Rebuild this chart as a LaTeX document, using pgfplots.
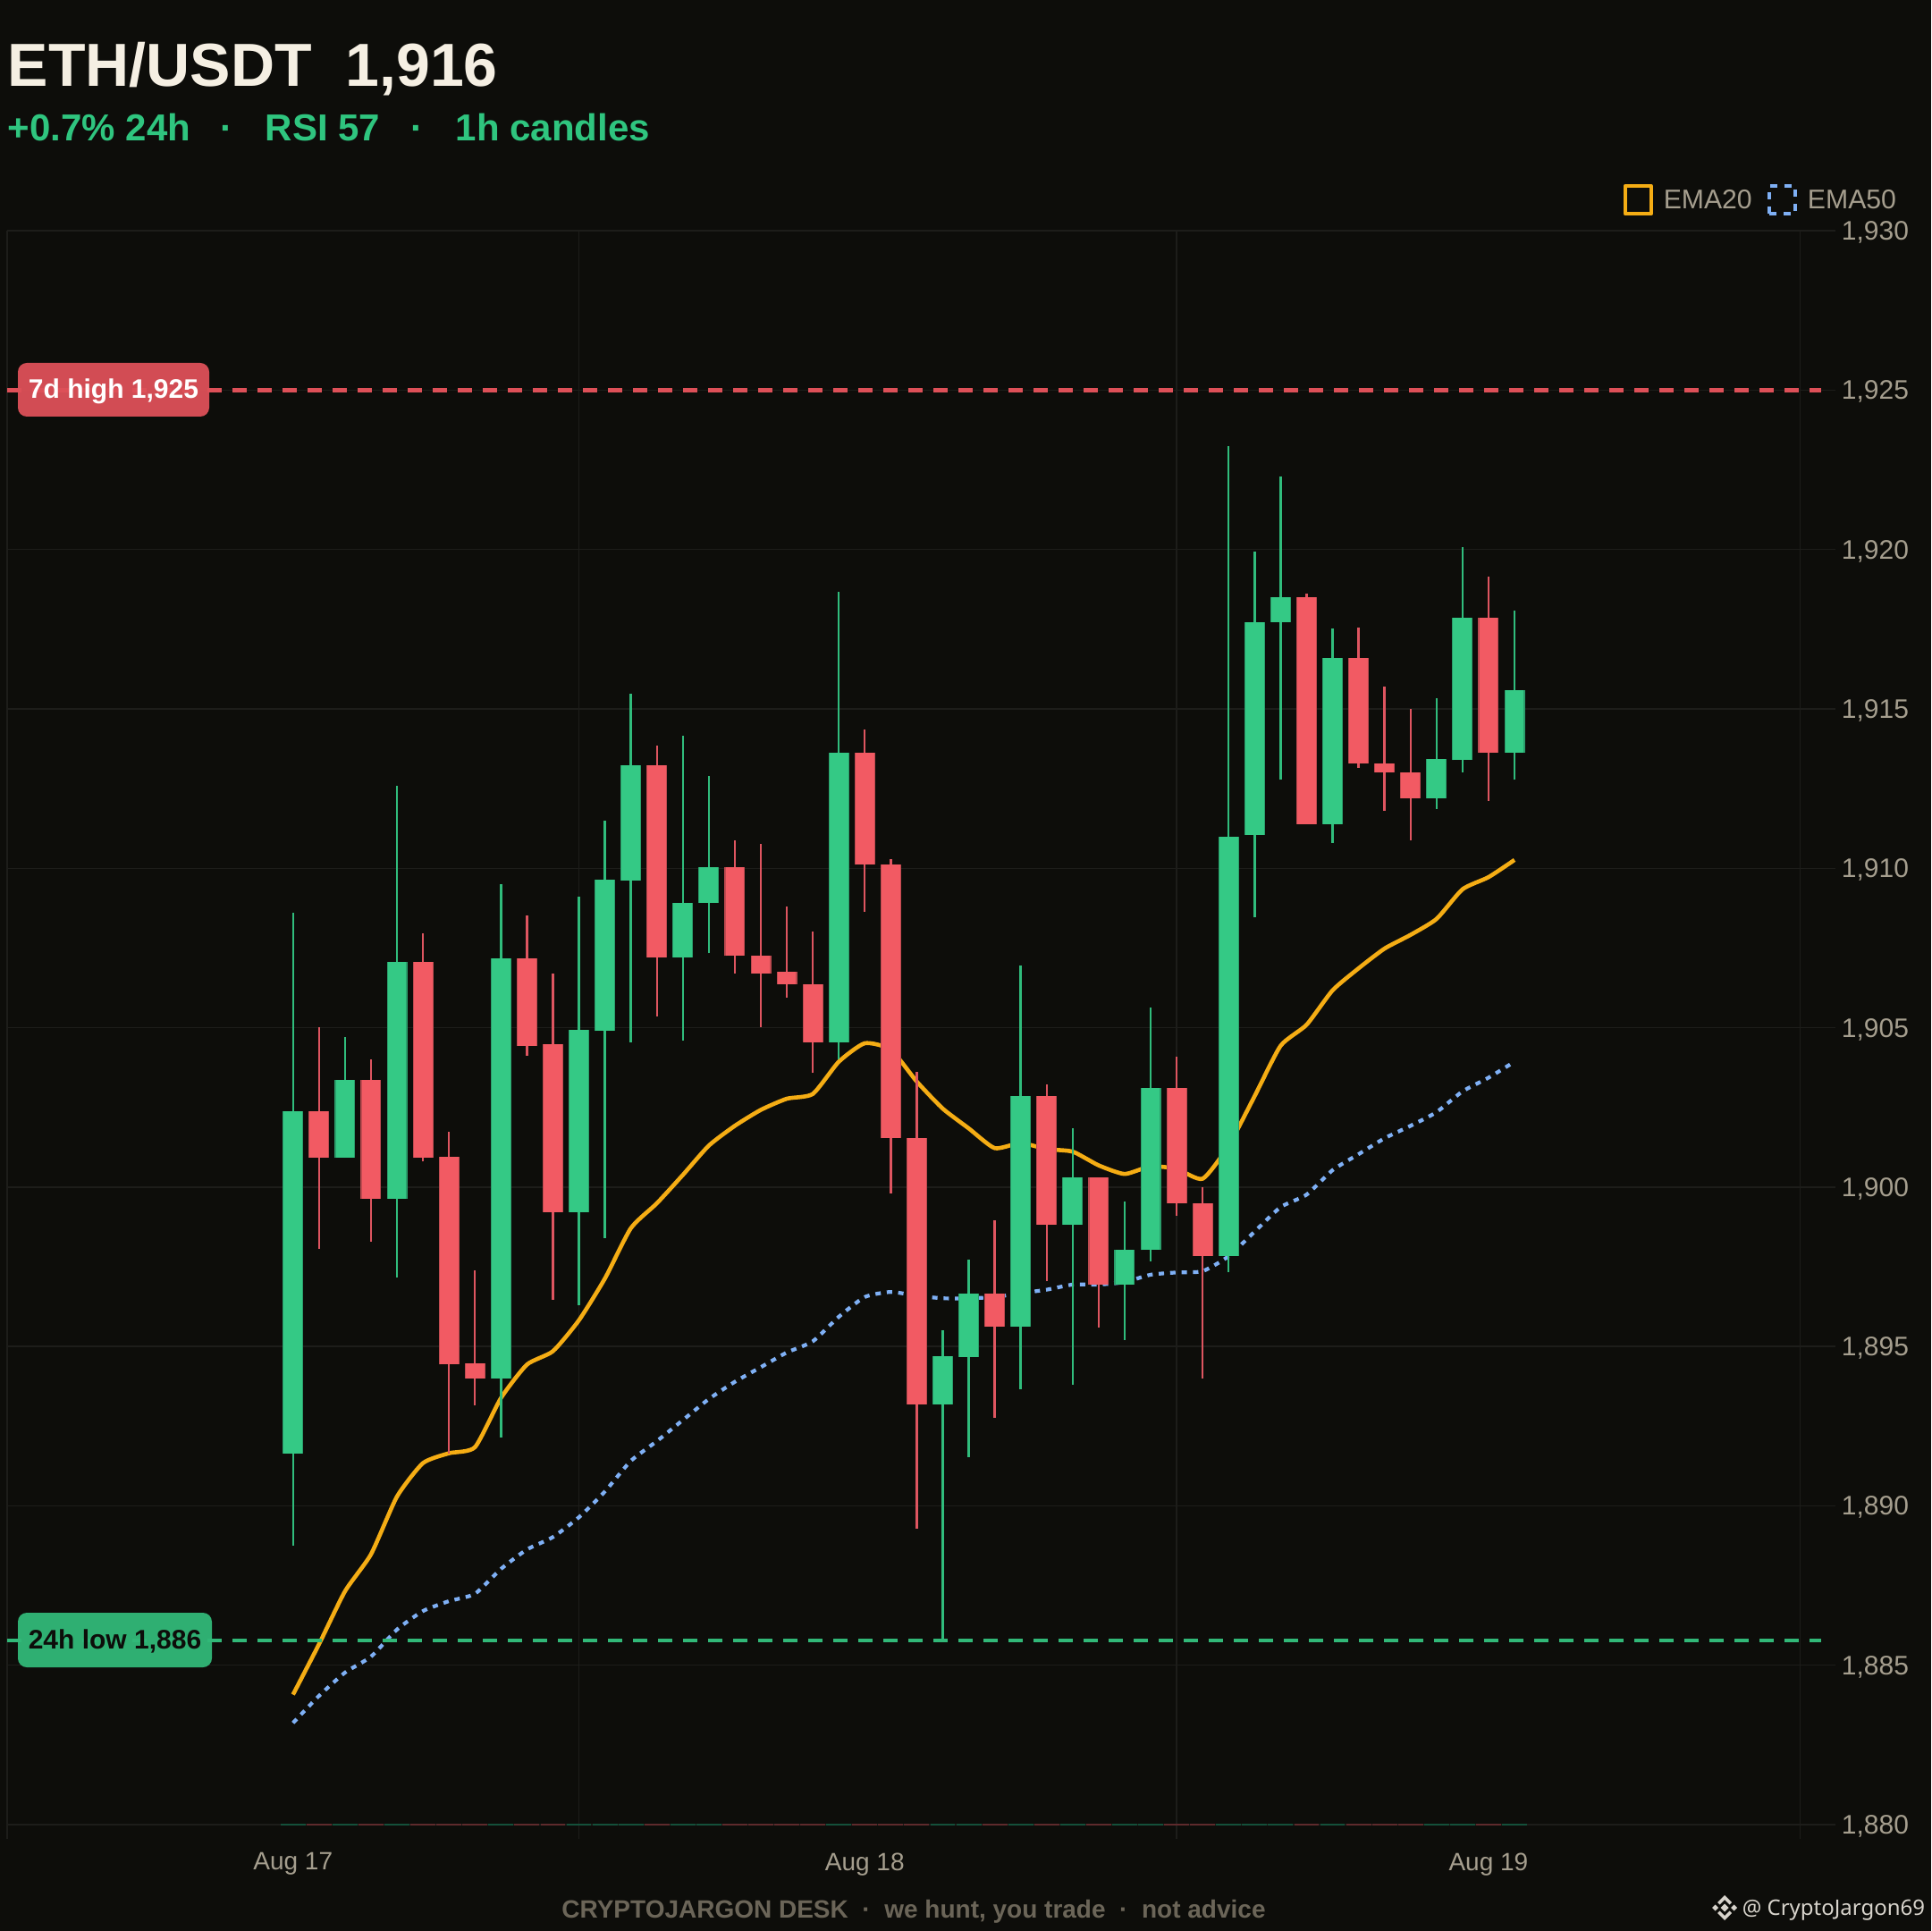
\documentclass[border=0pt]{standalone}
\usepackage{pgfplots}
\usepackage{pgfplotstable}
\usepackage{fontspec}
\pgfplotsset{compat=1.18}
\setmainfont{Liberation Sans}
\newfontfamily\wmfont{Noto Sans}
\definecolor{bgc}{HTML}{0D0D0A}
\definecolor{gridc}{HTML}{1D1D1A}
\definecolor{tickc}{HTML}{A59E8E}
\definecolor{upc}{HTML}{34C985}
\definecolor{upe}{HTML}{2A9E6B}
\definecolor{dnc}{HTML}{F25A63}
\definecolor{dne}{HTML}{BE4A50}
\definecolor{upw}{HTML}{30BC7C}
\definecolor{dnw}{HTML}{DE5560}
\definecolor{ema1}{HTML}{F5AD14}
\definecolor{ema2}{HTML}{7FB0F5}
\definecolor{hic}{HTML}{DD5058}
\definecolor{loc}{HTML}{31B878}
\definecolor{titc}{HTML}{F5EFE3}
\definecolor{subc}{HTML}{2FC57F}
\definecolor{footc}{HTML}{6B6558}
\definecolor{wmc}{HTML}{D8D4CC}
\definecolor{vup}{HTML}{14503A}
\definecolor{vdn}{HTML}{5E2A2C}
\newcommand{\fsz}[1]{\fontsize{#1}{#1}\selectfont}

% x wick-low wick-high body-low body-high
\pgfplotstableread{
x lo hi blo bhi
0 1888.75 1908.60 1891.65 1902.38
2 1900.92 1904.70 1900.92 1903.35
4 1897.17 1912.58 1899.64 1907.06
8 1892.15 1909.49 1894.00 1907.17
11 1896.28 1909.10 1899.22 1904.93
12 1898.41 1911.50 1904.89 1909.65
13 1904.55 1915.48 1909.61 1913.24
15 1904.59 1914.16 1907.21 1908.91
16 1907.33 1912.89 1908.91 1910.03
21 1904.01 1918.68 1904.55 1913.62
25 1885.81 1895.51 1893.19 1894.70
26 1891.53 1897.71 1894.66 1896.67
28 1893.65 1906.94 1895.62 1902.85
30 1893.81 1901.84 1898.83 1900.30
32 1895.20 1899.56 1896.94 1898.02
33 1897.67 1905.63 1898.02 1903.12
36 1897.32 1923.24 1897.83 1911.00
37 1908.45 1919.92 1911.04 1917.72
38 1912.77 1922.28 1917.72 1918.49
40 1910.80 1917.52 1911.38 1916.60
44 1911.85 1915.32 1912.19 1913.43
45 1913.01 1920.07 1913.39 1917.87
47 1912.77 1918.07 1913.62 1915.59
}\upt
\pgfplotstableread{
x lo hi blo bhi
1 1898.06 1905.01 1900.92 1902.38
3 1898.29 1904.01 1899.64 1903.35
5 1900.80 1907.95 1900.92 1907.06
6 1891.65 1901.73 1894.43 1900.95
7 1893.15 1897.40 1894.00 1894.47
9 1904.12 1908.53 1904.43 1907.17
10 1896.47 1906.71 1899.22 1904.47
14 1905.36 1913.86 1907.21 1913.24
17 1906.71 1910.88 1907.25 1910.03
18 1905.01 1910.77 1906.71 1907.25
19 1905.94 1908.80 1906.36 1906.75
20 1903.58 1908.02 1904.55 1906.36
22 1908.64 1914.36 1910.11 1913.62
23 1899.80 1910.30 1901.53 1910.11
24 1889.29 1903.62 1893.19 1901.53
27 1892.77 1898.95 1895.62 1896.67
29 1897.05 1903.23 1898.83 1902.85
31 1895.59 1900.30 1896.94 1900.30
34 1899.10 1904.08 1899.49 1903.12
35 1894.00 1899.99 1897.83 1899.49
39 1911.38 1918.61 1911.38 1918.49
41 1913.16 1917.56 1913.28 1916.60
42 1911.81 1915.71 1913.01 1913.28
43 1910.88 1915.01 1912.19 1913.01
46 1912.12 1919.15 1913.62 1917.87
}\dnt
\pgfplotstableread{
x a b
0 1884.08 1883.19
1 1885.66 1884.04
2 1887.32 1884.77
3 1888.48 1885.27
4 1890.29 1886.12
5 1891.34 1886.70
6 1891.65 1887.01
7 1891.84 1887.24
8 1893.38 1888.02
9 1894.43 1888.63
10 1894.85 1889.02
11 1895.82 1889.64
12 1897.13 1890.45
13 1898.71 1891.41
14 1899.49 1892.03
15 1900.38 1892.69
16 1901.30 1893.35
17 1901.92 1893.89
18 1902.42 1894.35
19 1902.77 1894.81
20 1902.92 1895.16
21 1903.93 1895.93
22 1904.51 1896.55
23 1904.31 1896.71
24 1903.31 1896.59
25 1902.46 1896.51
26 1901.84 1896.51
27 1901.22 1896.55
28 1901.38 1896.67
29 1901.19 1896.78
30 1901.11 1896.94
31 1900.68 1896.94
32 1900.41 1897.02
33 1900.65 1897.25
34 1900.57 1897.32
35 1900.26 1897.36
36 1901.30 1897.83
37 1902.85 1898.60
38 1904.43 1899.37
39 1905.09 1899.76
40 1906.17 1900.53
41 1906.86 1901.03
42 1907.48 1901.53
43 1907.91 1901.92
44 1908.41 1902.35
45 1909.34 1903.00
46 1909.72 1903.43
47 1910.26 1903.93
}\emat

\pgfplotsset{
  wick/.style={draw=none, mark=none, forget plot,
    error bars/.cd, y dir=plus, y explicit, error mark=none,
    error bar style={line width=0.6pt, line cap=butt, solid, color=#1}},
  body/.style 2 args={draw=none, mark=none, forget plot,
    error bars/.cd, y dir=plus, y explicit, error mark=none,
    error bar style={line width=#1, line cap=butt, solid, color=#2}},
  vol/.style={draw=none, mark=none, forget plot,
    error bars/.cd, x dir=both, x fixed=0.48, error mark=none,
    error bar style={line width=0.3pt, solid, color=#1}},
}

\begin{document}
\begin{tikzpicture}
\path[fill=bgc,use as bounding box] (0pt,0pt) rectangle (540pt,-540pt);
\begin{axis}[
  at={(2pt,-510.25pt)}, anchor=south west,
  scale only axis, width=507.25pt, height=445.75pt,
  xmin=-11, xmax=58.8, ymin=1880, ymax=1930,
  axis line style={draw=none},
  xtick={-11,11,34,58}, xticklabels={,,,},
  extra x ticks={0,22,46},
  extra x tick labels={Aug 17,Aug 18,Aug 19},
  extra x tick style={major tick length=0pt, grid=none, xticklabel style={yshift=-4.35pt}},
  ytick={1880,1885,...,1930},
  xtick pos=bottom, ytick pos=right,
  yticklabel pos=right,
  tick align=outside, major tick length=4pt,
  tick style={color=gridc, line width=0.35pt},
  grid=major, grid style={color=gridc, line width=0.35pt},
  yticklabel style={font=\fsz{7.5}, text=tickc, xshift=-1.8pt, yshift=-0.5pt,
    /pgf/number format/fixed, /pgf/number format/1000 sep={,}, /pgf/number format/assume math mode=true},
  xticklabel style={font=\fsz{7}, text=tickc},
  clip=false,
  legend columns=2,
  legend style={at={(1,1)}, anchor=south east, xshift=23pt, yshift=2.6pt, fill=none, draw=none,
    font=\fsz{7.55}, text=tickc, inner sep=0pt, outer sep=0pt,
    /tikz/every even column/.append style={column sep=2.3pt},
    /tikz/every odd column/.append style={column sep=1pt}},
  legend cell align=left,
]
% faint strip along the bottom
\addplot[vol=vup] table[x=x, y expr=1880] {\upt};
\addplot[vol=vdn] table[x=x, y expr=1880] {\dnt};
% EMAs
\addplot[color=ema1, line width=1.15pt, smooth, tension=0.35, line join=round,
  legend image code/.code={\draw[color=ema1, line width=1.05pt, solid] (0pt,-3.3pt) rectangle (7.2pt,4.5pt);}]
  table[x=x, y=a] {\emat};
\addlegendentry{EMA20}
\addplot[color=ema2, line width=1.05pt, smooth, tension=0.35, dash pattern=on 1.5pt off 1.7pt,
  legend image code/.code={\draw[color=ema2, line width=1.05pt, dash pattern=on 2pt off 2pt] (0pt,-3.3pt) rectangle (7.2pt,4.5pt);}]
  table[x=x, y=b] {\emat};
\addlegendentry{EMA50}
% wicks
\addplot[wick=upw] table[x=x, y=lo, y error expr=\thisrow{hi}-\thisrow{lo}] {\upt};
\addplot[wick=dnw] table[x=x, y=lo, y error expr=\thisrow{hi}-\thisrow{lo}] {\dnt};
% bodies
\addplot[body={5.75pt}{upe}] table[x=x, y=blo, y error expr=\thisrow{bhi}-\thisrow{blo}] {\upt};
\addplot[body={5.2pt}{upc}] table[x=x, y=blo, y error expr=\thisrow{bhi}-\thisrow{blo}] {\upt};
\addplot[body={5.75pt}{dne}] table[x=x, y=blo, y error expr=\thisrow{bhi}-\thisrow{blo}] {\dnt};
\addplot[body={5.2pt}{dnc}] table[x=x, y=blo, y error expr=\thisrow{bhi}-\thisrow{blo}] {\dnt};
% reference levels
\addplot[forget plot, color=hic, line width=1.15pt, dash pattern=on 4pt off 3pt, line cap=butt] coordinates {(-11,1925) (58.8,1925)};
\addplot[forget plot, color=loc, line width=1.15pt, dash pattern=on 4pt off 3pt, line cap=butt] coordinates {(-11,1885.78) (58.8,1885.78)};
\end{axis}
\begin{scope}[x=0.25pt,y=-0.25pt]
\node[anchor=base west, inner sep=0pt, text=titc, font=\fsz{17}\bfseries] at (8,97) {ETH/USDT\ \ 1,916};
\node[anchor=base west, inner sep=0pt, text=subc, font=\fsz{10.5}\bfseries] at (8,158) {+0.7\% 24h};
\node[anchor=base, inner sep=0pt, text=subc, font=\fsz{10.5}\bfseries] at (253.5,158) {·};
\node[anchor=base west, inner sep=0pt, text=subc, font=\fsz{10.5}\bfseries] at (296,158) {RSI 57};
\node[anchor=base, inner sep=0pt, text=subc, font=\fsz{10.5}\bfseries] at (466,158) {·};
\node[anchor=base west, inner sep=0pt, text=subc, font=\fsz{10.5}\bfseries] at (509,158) {1h candles};
\fill[hic, fill opacity=0.95, rounded corners=2.5pt] (20,406) rectangle (234,466);
\node[anchor=base, inner sep=0pt, text=white, font=\fsz{7.5}\bfseries] at (127,446) {7d high 1,925};
\fill[loc, fill opacity=0.95, rounded corners=2.5pt] (20,1804) rectangle (237,1865);
\node[anchor=base, inner sep=0pt, text=bgc, font=\fsz{7.5}\bfseries] at (128.5,1844) {24h low 1,886};
\node[anchor=base, inner sep=0pt, text=footc, font=\fsz{7}\bfseries] at (1022,2145) {CRYPTOJARGON DESK\ \ ·\ \ we hunt, you trade\ \ ·\ \ not advice};
\begin{scope}[shift={(1929,2134)}]
\fill[wmc] (0,-4.5)--(4.5,0)--(0,4.5)--(-4.5,0)--cycle;
\fill[wmc] (-10.5,-3.5)--(-7,0)--(-10.5,3.5)--(-14,0)--cycle;
\fill[wmc] (10.5,-3.5)--(14,0)--(10.5,3.5)--(7,0)--cycle;
\fill[wmc] (0,-14)--(8,-6)--(5.5,-3.5)--(0,-9)--(-5.5,-3.5)--(-8,-6)--cycle;
\fill[wmc] (0,14)--(8,6)--(5.5,3.5)--(0,9)--(-5.5,3.5)--(-8,6)--cycle;
\end{scope}
\node[anchor=base west, inner sep=0pt, text=wmc, font=\wmfont\fsz{6}] at (1948,2142) {@ CryptoJargon69};
\end{scope}
\end{tikzpicture}
\end{document}
